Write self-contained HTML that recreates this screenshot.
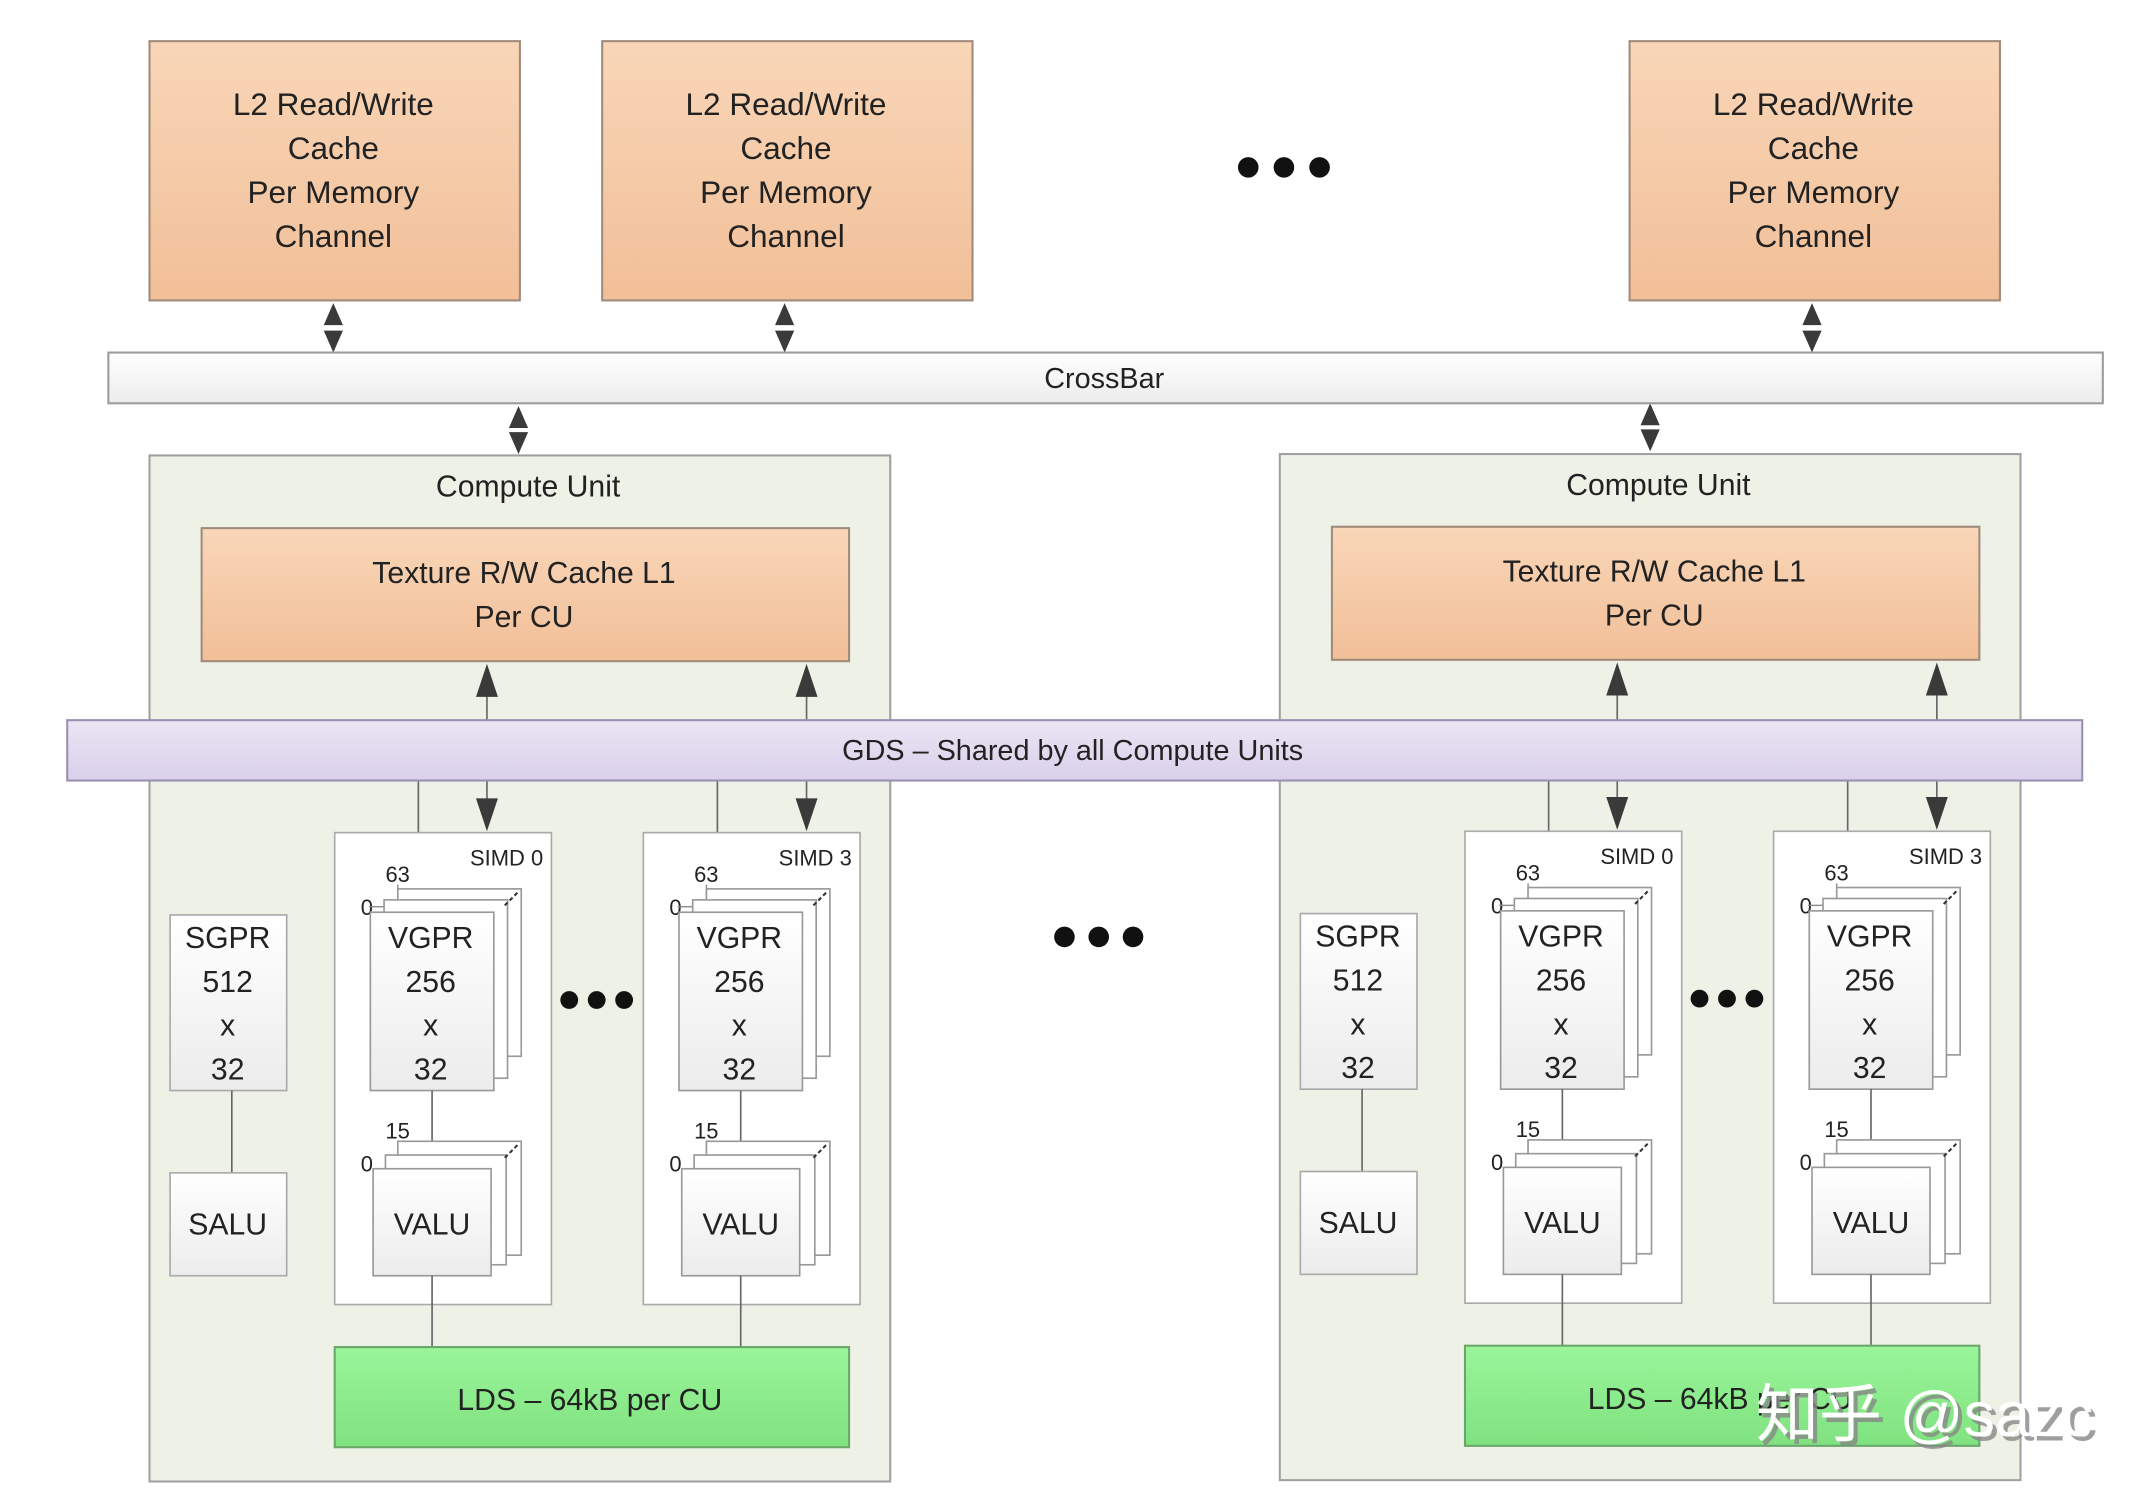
<!DOCTYPE html>
<html><head><meta charset="utf-8"><style>
html,body{margin:0;padding:0;background:#fff;}
svg{display:block;}
text{font-family:"Liberation Sans","Noto Sans CJK SC",sans-serif;fill:#222;}
</style></head><body>
<svg width="2150" height="1504" viewBox="0 0 1567.4 1096.4" preserveAspectRatio="none" xmlns="http://www.w3.org/2000/svg">
<defs>
<linearGradient id="or" x1="0" y1="0" x2="0" y2="1"><stop offset="0" stop-color="#f9d6b8"/><stop offset="1" stop-color="#f1bf98"/></linearGradient>
<linearGradient id="cb" x1="0" y1="0" x2="0" y2="1"><stop offset="0" stop-color="#ffffff"/><stop offset="1" stop-color="#ececec"/></linearGradient>
<linearGradient id="gd" x1="0" y1="0" x2="0" y2="1"><stop offset="0" stop-color="#ebe5f4"/><stop offset="1" stop-color="#d9d0ea"/></linearGradient>
<linearGradient id="gr" x1="0" y1="0" x2="0" y2="1"><stop offset="0" stop-color="#9af59a"/><stop offset="1" stop-color="#7fe27f"/></linearGradient>
<linearGradient id="wb" x1="0" y1="0" x2="0" y2="1"><stop offset="0" stop-color="#ffffff"/><stop offset="1" stop-color="#ececec"/></linearGradient>
</defs>

<g stroke="#a08a7a" stroke-width="1.5">
<rect x="109" y="30" width="270" height="189" fill="url(#or)"/>
<rect x="439" y="30" width="270" height="189" fill="url(#or)"/>
<rect x="1188" y="30" width="270" height="189" fill="url(#or)"/>
</g>
<g font-size="23" text-anchor="middle">
<text x="243" y="84">L2 Read/Write</text><text x="243" y="116">Cache</text><text x="243" y="148">Per Memory</text><text x="243" y="180">Channel</text>
<text x="573" y="84">L2 Read/Write</text><text x="573" y="116">Cache</text><text x="573" y="148">Per Memory</text><text x="573" y="180">Channel</text>
<text x="1322" y="84">L2 Read/Write</text><text x="1322" y="116">Cache</text><text x="1322" y="148">Per Memory</text><text x="1322" y="180">Channel</text>
</g>
<g fill="#111"><circle cx="910" cy="122" r="7.5"/><circle cx="936" cy="122" r="7.5"/><circle cx="962" cy="122" r="7.5"/></g>

<g fill="#3a3a3a">
<path d="M243,221 l-7,16 h14z M243,257 l-7,-16 h14z"/>
<path d="M572,221 l-7,16 h14z M572,257 l-7,-16 h14z"/>
<path d="M1321,221 l-7,16 h14z M1321,257 l-7,-16 h14z"/>
<path d="M378,296 l-7,16 h14z M378,331 l-7,-16 h14z"/>
<path d="M1203,294 l-7,16 h14z M1203,329 l-7,-16 h14z"/>
</g>

<rect x="79" y="257" width="1454" height="37" fill="url(#cb)" stroke="#9a9a9a" stroke-width="1.5"/>
<text x="805" y="283" font-size="21" text-anchor="middle">CrossBar</text>

<g id="cu">
<rect x="109" y="332" width="540" height="748" fill="#eef1e6" stroke="#a0a0a0" stroke-width="1.5"/>
<text x="385" y="362" font-size="22" text-anchor="middle">Compute Unit</text>
<rect x="147" y="385" width="472" height="97" fill="url(#or)" stroke="#a08a7a" stroke-width="1.5"/>
<text x="382" y="425" font-size="22" text-anchor="middle">Texture R/W Cache L1</text>
<text x="382" y="457" font-size="22" text-anchor="middle">Per CU</text>
<g stroke="#666" stroke-width="1.2">
<line x1="355" y1="500" x2="355" y2="526"/><line x1="588" y1="500" x2="588" y2="526"/>
<line x1="355" y1="569" x2="355" y2="588"/><line x1="588" y1="569" x2="588" y2="588"/>
<line x1="305" y1="569" x2="305" y2="607"/><line x1="523" y1="569" x2="523" y2="607"/>
</g>
<g fill="#3a3a3a">
<path d="M355,484 l-8,24 h16z"/><path d="M588,484 l-8,24 h16z"/>
<path d="M355,606 l-8,-24 h16z"/><path d="M588,606 l-8,-24 h16z"/>
</g>
<rect x="124" y="667" width="85" height="128" fill="url(#wb)" stroke="#aaa" stroke-width="1.2"/>
<g font-size="22" text-anchor="middle"><text x="166" y="691">SGPR</text><text x="166" y="723">512</text><text x="166" y="755">x</text><text x="166" y="787">32</text></g>
<line x1="169" y1="795" x2="169" y2="855" stroke="#666" stroke-width="1.2"/>
<rect x="124" y="855" width="85" height="75" fill="url(#wb)" stroke="#aaa" stroke-width="1.2"/>
<text x="166" y="900" font-size="22" text-anchor="middle">SALU</text>
<g id="simd">
<rect x="244" y="607" width="158" height="344" fill="#fff" stroke="#aaa" stroke-width="1.2"/>
<text x="396" y="631" font-size="16" text-anchor="end">SIMD 0</text>
<text x="281" y="643" font-size="16">63</text>
<text x="263" y="667" font-size="16">0</text>
<line x1="290" y1="645" x2="290" y2="656" stroke="#888"/>
<line x1="269" y1="661" x2="280" y2="661" stroke="#888"/>
<g stroke="#999" stroke-width="1.2">
<rect x="290" y="648" width="90" height="122" fill="#fff"/>
<rect x="280" y="656" width="90" height="130" fill="#fff"/>
<rect x="270" y="665" width="90" height="130" fill="url(#wb)"/>
</g>
<line x1="368" y1="660" x2="378" y2="650" stroke="#333" stroke-width="1.5" stroke-dasharray="3,2"/>
<g font-size="22" text-anchor="middle"><text x="314" y="691">VGPR</text><text x="314" y="723">256</text><text x="314" y="755">x</text><text x="314" y="787">32</text></g>
<line x1="315" y1="795" x2="315" y2="832" stroke="#666" stroke-width="1.2"/>
<text x="281" y="830" font-size="16">15</text>
<text x="263" y="854" font-size="16">0</text>
<line x1="290" y1="832" x2="290" y2="842" stroke="#888"/>
<g stroke="#999" stroke-width="1.2">
<rect x="290" y="832" width="90" height="83" fill="#fff"/>
<rect x="281" y="842" width="88" height="80" fill="#fff"/>
<rect x="272" y="852" width="86" height="78" fill="url(#wb)"/>
</g>
<line x1="368" y1="844" x2="378" y2="834" stroke="#333" stroke-width="1.5" stroke-dasharray="3,2"/>
<text x="315" y="900" font-size="22" text-anchor="middle">VALU</text>
<line x1="315" y1="930" x2="315" y2="982" stroke="#666" stroke-width="1.2"/>
</g>
<g transform="translate(225,0)">
<rect x="244" y="607" width="158" height="344" fill="#fff" stroke="#aaa" stroke-width="1.2"/>
<text x="396" y="631" font-size="16" text-anchor="end">SIMD 3</text>
<text x="281" y="643" font-size="16">63</text>
<text x="263" y="667" font-size="16">0</text>
<line x1="290" y1="645" x2="290" y2="656" stroke="#888"/>
<line x1="269" y1="661" x2="280" y2="661" stroke="#888"/>
<g stroke="#999" stroke-width="1.2">
<rect x="290" y="648" width="90" height="122" fill="#fff"/>
<rect x="280" y="656" width="90" height="130" fill="#fff"/>
<rect x="270" y="665" width="90" height="130" fill="url(#wb)"/>
</g>
<line x1="368" y1="660" x2="378" y2="650" stroke="#333" stroke-width="1.5" stroke-dasharray="3,2"/>
<g font-size="22" text-anchor="middle"><text x="314" y="691">VGPR</text><text x="314" y="723">256</text><text x="314" y="755">x</text><text x="314" y="787">32</text></g>
<line x1="315" y1="795" x2="315" y2="832" stroke="#666" stroke-width="1.2"/>
<text x="281" y="830" font-size="16">15</text>
<text x="263" y="854" font-size="16">0</text>
<line x1="290" y1="832" x2="290" y2="842" stroke="#888"/>
<g stroke="#999" stroke-width="1.2">
<rect x="290" y="832" width="90" height="83" fill="#fff"/>
<rect x="281" y="842" width="88" height="80" fill="#fff"/>
<rect x="272" y="852" width="86" height="78" fill="url(#wb)"/>
</g>
<line x1="368" y1="844" x2="378" y2="834" stroke="#333" stroke-width="1.5" stroke-dasharray="3,2"/>
<text x="315" y="900" font-size="22" text-anchor="middle">VALU</text>
<line x1="315" y1="930" x2="315" y2="982" stroke="#666" stroke-width="1.2"/>
</g>
<g fill="#111"><circle cx="415" cy="729" r="6.5"/><circle cx="435" cy="729" r="6.5"/><circle cx="455" cy="729" r="6.5"/></g>
<rect x="244" y="982" width="375" height="73" fill="url(#gr)" stroke="#6aa56a" stroke-width="1.5"/>
<text x="430" y="1028" font-size="22" text-anchor="middle">LDS – 64kB per CU</text>
</g>
<use href="#cu" transform="translate(824,-1)"/>

<rect x="49" y="525" width="1469" height="44" fill="url(#gd)" stroke="#9a8fb0" stroke-width="1.5"/>
<text x="782" y="554" font-size="21" text-anchor="middle">GDS – Shared by all Compute Units</text>

<g fill="#111"><circle cx="776" cy="683" r="7.5"/><circle cx="801" cy="683" r="7.5"/><circle cx="826" cy="683" r="7.5"/></g>

<text x="1283" y="1050" font-size="46" style="fill:#888;opacity:0.8">知乎 @sazc</text>
<text x="1280" y="1047" font-size="46" style="fill:#fff">知乎 @sazc</text>
</svg>
</body></html>
